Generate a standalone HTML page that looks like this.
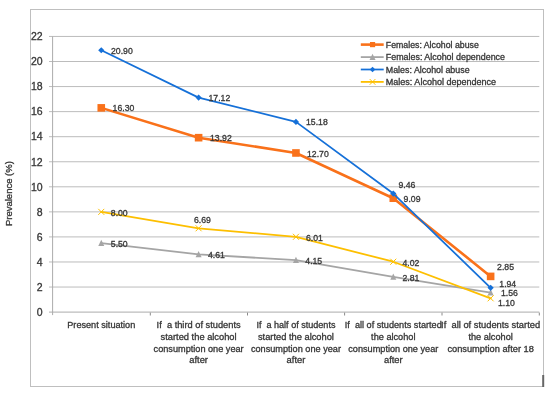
<!DOCTYPE html><html><head><meta charset="utf-8"><style>html,body{margin:0;padding:0;background:#fff;}svg{display:block;}text{font-family:"Liberation Sans",Arial,sans-serif;fill:#363636;stroke:#363636;stroke-width:0.3px;}</style></head><body>
<svg width="550" height="396" viewBox="0 0 550 396">
<rect width="550" height="396" fill="#fff"/>
<rect x="30.5" y="9.5" width="513" height="377" fill="none" stroke="#bfbfbf" stroke-width="1"/>
<rect x="542.2" y="375" width="2" height="12" fill="#666"/>
<line x1="49" y1="287.04" x2="539.30" y2="287.04" stroke="#bcbcbc" stroke-width="1"/>
<line x1="49" y1="261.98" x2="539.30" y2="261.98" stroke="#bcbcbc" stroke-width="1"/>
<line x1="49" y1="236.92" x2="539.30" y2="236.92" stroke="#bcbcbc" stroke-width="1"/>
<line x1="49" y1="211.86" x2="539.30" y2="211.86" stroke="#bcbcbc" stroke-width="1"/>
<line x1="49" y1="186.80" x2="539.30" y2="186.80" stroke="#bcbcbc" stroke-width="1"/>
<line x1="49" y1="161.75" x2="539.30" y2="161.75" stroke="#bcbcbc" stroke-width="1"/>
<line x1="49" y1="136.69" x2="539.30" y2="136.69" stroke="#bcbcbc" stroke-width="1"/>
<line x1="49" y1="111.63" x2="539.30" y2="111.63" stroke="#bcbcbc" stroke-width="1"/>
<line x1="49" y1="86.57" x2="539.30" y2="86.57" stroke="#bcbcbc" stroke-width="1"/>
<line x1="49" y1="61.51" x2="539.30" y2="61.51" stroke="#bcbcbc" stroke-width="1"/>
<line x1="49" y1="36.45" x2="539.30" y2="36.45" stroke="#bcbcbc" stroke-width="1"/>
<line x1="49" y1="312.10" x2="539.30" y2="312.10" stroke="#acacac" stroke-width="1"/>
<line x1="52.6" y1="36.45" x2="52.6" y2="315.10" stroke="#acacac" stroke-width="1"/>
<line x1="150.30" y1="312.60" x2="150.30" y2="315.50" stroke="#8a8a8a" stroke-width="1"/>
<line x1="247.50" y1="312.60" x2="247.50" y2="315.50" stroke="#8a8a8a" stroke-width="1"/>
<line x1="344.60" y1="312.60" x2="344.60" y2="315.50" stroke="#8a8a8a" stroke-width="1"/>
<line x1="442.00" y1="312.60" x2="442.00" y2="315.50" stroke="#8a8a8a" stroke-width="1"/>
<line x1="539.30" y1="312.60" x2="539.30" y2="315.50" stroke="#8a8a8a" stroke-width="1"/>
<text x="42.6" y="315.90" font-size="10.5" text-anchor="end">0</text>
<text x="42.6" y="290.84" font-size="10.5" text-anchor="end">2</text>
<text x="42.6" y="265.78" font-size="10.5" text-anchor="end">4</text>
<text x="42.6" y="240.72" font-size="10.5" text-anchor="end">6</text>
<text x="42.6" y="215.66" font-size="10.5" text-anchor="end">8</text>
<text x="42.6" y="190.60" font-size="10.5" text-anchor="end">10</text>
<text x="42.6" y="165.55" font-size="10.5" text-anchor="end">12</text>
<text x="42.6" y="140.49" font-size="10.5" text-anchor="end">14</text>
<text x="42.6" y="115.43" font-size="10.5" text-anchor="end">16</text>
<text x="42.6" y="90.37" font-size="10.5" text-anchor="end">18</text>
<text x="42.6" y="65.31" font-size="10.5" text-anchor="end">20</text>
<text x="42.6" y="40.25" font-size="10.5" text-anchor="end">22</text>
<text transform="translate(11.7,193.6) rotate(-90)" font-size="9" text-anchor="middle" textLength="65" lengthAdjust="spacingAndGlyphs">Prevalence (%)</text>
<text x="101.27" y="328.00" font-size="8.8" text-anchor="middle" textLength="68.0" lengthAdjust="spacingAndGlyphs" xml:space="preserve">Present situation</text>
<text x="198.61" y="328.00" font-size="8.8" text-anchor="middle" textLength="84.0" lengthAdjust="spacingAndGlyphs" xml:space="preserve">If  a third of students</text>
<text x="198.61" y="339.80" font-size="8.8" text-anchor="middle" textLength="76.0" lengthAdjust="spacingAndGlyphs" xml:space="preserve">started the alcohol</text>
<text x="198.61" y="351.60" font-size="8.8" text-anchor="middle" textLength="90.0" lengthAdjust="spacingAndGlyphs" xml:space="preserve">consumption one year</text>
<text x="198.61" y="363.40" font-size="8.8" text-anchor="middle" textLength="18.7" lengthAdjust="spacingAndGlyphs" xml:space="preserve">after</text>
<text x="295.95" y="328.00" font-size="8.8" text-anchor="middle" textLength="79.0" lengthAdjust="spacingAndGlyphs" xml:space="preserve">If  a half of students</text>
<text x="295.95" y="339.80" font-size="8.8" text-anchor="middle" textLength="76.0" lengthAdjust="spacingAndGlyphs" xml:space="preserve">started the alcohol</text>
<text x="295.95" y="351.60" font-size="8.8" text-anchor="middle" textLength="90.0" lengthAdjust="spacingAndGlyphs" xml:space="preserve">consumption one year</text>
<text x="295.95" y="363.40" font-size="8.8" text-anchor="middle" textLength="18.7" lengthAdjust="spacingAndGlyphs" xml:space="preserve">after</text>
<text x="393.29" y="328.00" font-size="8.8" text-anchor="middle" textLength="97.0" lengthAdjust="spacingAndGlyphs" xml:space="preserve">If  all of students started</text>
<text x="393.29" y="339.80" font-size="8.8" text-anchor="middle" textLength="44.4" lengthAdjust="spacingAndGlyphs" xml:space="preserve">the alcohol</text>
<text x="393.29" y="351.60" font-size="8.8" text-anchor="middle" textLength="90.0" lengthAdjust="spacingAndGlyphs" xml:space="preserve">consumption one year</text>
<text x="393.29" y="363.40" font-size="8.8" text-anchor="middle" textLength="18.7" lengthAdjust="spacingAndGlyphs" xml:space="preserve">after</text>
<text x="490.63" y="328.00" font-size="8.8" text-anchor="middle" textLength="99.0" lengthAdjust="spacingAndGlyphs" xml:space="preserve">If  all of students started</text>
<text x="490.63" y="339.80" font-size="8.8" text-anchor="middle" textLength="44.4" lengthAdjust="spacingAndGlyphs" xml:space="preserve">the alcohol</text>
<text x="490.63" y="351.60" font-size="8.8" text-anchor="middle" textLength="86.4" lengthAdjust="spacingAndGlyphs" xml:space="preserve">consumption after 18</text>
<polyline points="101.27,107.87 198.61,137.69 295.95,152.97 393.29,198.21 490.63,276.39" fill="none" stroke="#f9711a" stroke-width="2.6" stroke-linejoin="round" stroke-linecap="round"/>
<rect x="97.47" y="104.07" width="7.60" height="7.60" fill="#f9711a"/>
<rect x="194.81" y="133.89" width="7.60" height="7.60" fill="#f9711a"/>
<rect x="292.15" y="149.17" width="7.60" height="7.60" fill="#f9711a"/>
<rect x="389.49" y="194.41" width="7.60" height="7.60" fill="#f9711a"/>
<rect x="486.83" y="272.59" width="7.60" height="7.60" fill="#f9711a"/>
<polyline points="101.27,243.19 198.61,254.34 295.95,260.10 393.29,276.89 490.63,292.55" fill="none" stroke="#a5a5a5" stroke-width="1.8" stroke-linejoin="round" stroke-linecap="round"/>
<polygon points="101.27,239.74 104.27,246.04 98.27,246.04" fill="#a5a5a5"/>
<polygon points="198.61,250.89 201.61,257.19 195.61,257.19" fill="#a5a5a5"/>
<polygon points="295.95,256.65 298.95,262.95 292.95,262.95" fill="#a5a5a5"/>
<polygon points="393.29,273.44 396.29,279.74 390.29,279.74" fill="#a5a5a5"/>
<polygon points="490.63,289.10 493.63,295.40 487.63,295.40" fill="#a5a5a5"/>
<polyline points="101.27,50.23 198.61,97.59 295.95,121.90 393.29,193.57 490.63,287.79" fill="none" stroke="#1570d8" stroke-width="1.75" stroke-linejoin="round" stroke-linecap="round"/>
<polygon points="101.27,47.13 104.37,50.23 101.27,53.33 98.17,50.23" fill="#1570d8"/>
<polygon points="198.61,94.49 201.71,97.59 198.61,100.69 195.51,97.59" fill="#1570d8"/>
<polygon points="295.95,118.80 299.05,121.90 295.95,125.00 292.85,121.90" fill="#1570d8"/>
<polygon points="393.29,190.47 396.39,193.57 393.29,196.67 390.19,193.57" fill="#1570d8"/>
<polygon points="490.63,284.69 493.73,287.79 490.63,290.89 487.53,287.79" fill="#1570d8"/>
<polyline points="101.27,211.86 198.61,228.28 295.95,236.80 393.29,261.73 490.63,298.32" fill="none" stroke="#fdbf00" stroke-width="1.8" stroke-linejoin="round" stroke-linecap="round"/>
<path d="M98.27,208.86L104.27,214.86M104.27,208.86L98.27,214.86" stroke="#fdbf00" stroke-width="1.0" fill="none"/>
<path d="M195.61,225.28L201.61,231.28M201.61,225.28L195.61,231.28" stroke="#fdbf00" stroke-width="1.0" fill="none"/>
<path d="M292.95,233.80L298.95,239.80M298.95,233.80L292.95,239.80" stroke="#fdbf00" stroke-width="1.0" fill="none"/>
<path d="M390.29,258.73L396.29,264.73M396.29,258.73L390.29,264.73" stroke="#fdbf00" stroke-width="1.0" fill="none"/>
<path d="M487.63,295.32L493.63,301.32M493.63,295.32L487.63,301.32" stroke="#fdbf00" stroke-width="1.0" fill="none"/>
<text x="112.60" y="110.90" font-size="8.8" textLength="21.7" lengthAdjust="spacingAndGlyphs">16.30</text>
<text x="210.00" y="141.00" font-size="8.8" textLength="21.7" lengthAdjust="spacingAndGlyphs">13.92</text>
<text x="307.00" y="156.50" font-size="8.8" textLength="21.7" lengthAdjust="spacingAndGlyphs">12.70</text>
<text x="403.60" y="202.00" font-size="8.8" textLength="16.9" lengthAdjust="spacingAndGlyphs">9.09</text>
<text x="497.10" y="269.70" font-size="8.8" textLength="16.9" lengthAdjust="spacingAndGlyphs">2.85</text>
<text x="110.80" y="247.00" font-size="8.8" textLength="16.9" lengthAdjust="spacingAndGlyphs">5.50</text>
<text x="208.00" y="257.80" font-size="8.8" textLength="16.9" lengthAdjust="spacingAndGlyphs">4.61</text>
<text x="305.30" y="264.10" font-size="8.8" textLength="16.9" lengthAdjust="spacingAndGlyphs">4.15</text>
<text x="402.50" y="280.70" font-size="8.8" textLength="16.9" lengthAdjust="spacingAndGlyphs">2.81</text>
<text x="501.00" y="295.80" font-size="8.8" textLength="16.9" lengthAdjust="spacingAndGlyphs">1.56</text>
<text x="111.00" y="53.60" font-size="8.8" textLength="21.7" lengthAdjust="spacingAndGlyphs">20.90</text>
<text x="208.50" y="101.20" font-size="8.8" textLength="21.7" lengthAdjust="spacingAndGlyphs">17.12</text>
<text x="306.00" y="125.40" font-size="8.8" textLength="21.7" lengthAdjust="spacingAndGlyphs">15.18</text>
<text x="398.50" y="188.20" font-size="8.8" textLength="16.9" lengthAdjust="spacingAndGlyphs">9.46</text>
<text x="499.30" y="287.40" font-size="8.8" textLength="16.9" lengthAdjust="spacingAndGlyphs">1.94</text>
<text x="110.80" y="215.70" font-size="8.8" textLength="16.9" lengthAdjust="spacingAndGlyphs">8.00</text>
<text x="193.90" y="223.40" font-size="8.8" textLength="16.9" lengthAdjust="spacingAndGlyphs">6.69</text>
<text x="305.90" y="240.70" font-size="8.8" textLength="16.9" lengthAdjust="spacingAndGlyphs">6.01</text>
<text x="402.50" y="265.80" font-size="8.8" textLength="16.9" lengthAdjust="spacingAndGlyphs">4.02</text>
<text x="498.00" y="306.30" font-size="8.8" textLength="16.9" lengthAdjust="spacingAndGlyphs">1.10</text>
<line x1="360.8" y1="44.6" x2="383.7" y2="44.6" stroke="#f9711a" stroke-width="2.6"/>
<rect x="369.97" y="42.02" width="5.17" height="5.17" fill="#f9711a"/>
<text x="385.8" y="47.60" font-size="8.4" textLength="93.0" lengthAdjust="spacingAndGlyphs">Females: Alcohol abuse</text>
<line x1="360.8" y1="57.1" x2="383.7" y2="57.1" stroke="#a5a5a5" stroke-width="1.8"/>
<polygon points="372.55,53.65 375.55,59.95 369.55,59.95" fill="#a5a5a5"/>
<text x="385.8" y="60.10" font-size="8.4" textLength="119.2" lengthAdjust="spacingAndGlyphs">Females: Alcohol dependence</text>
<line x1="360.8" y1="69.5" x2="383.7" y2="69.5" stroke="#1570d8" stroke-width="1.75"/>
<polygon points="372.55,66.71 375.34,69.50 372.55,72.29 369.76,69.50" fill="#1570d8"/>
<text x="385.8" y="72.50" font-size="8.4" textLength="83.8" lengthAdjust="spacingAndGlyphs">Males: Alcohol abuse</text>
<line x1="360.8" y1="81.9" x2="383.7" y2="81.9" stroke="#fdbf00" stroke-width="1.8"/>
<path d="M369.70,79.05L375.40,84.75M375.40,79.05L369.70,84.75" stroke="#fdbf00" stroke-width="1.0" fill="none"/>
<text x="385.8" y="84.90" font-size="8.4" textLength="110.3" lengthAdjust="spacingAndGlyphs">Males: Alcohol dependence</text>
</svg></body></html>
